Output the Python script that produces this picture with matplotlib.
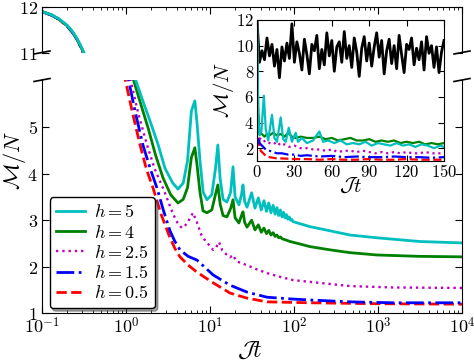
import math
import matplotlib
matplotlib.use("Agg")
import matplotlib.pyplot as plt
from matplotlib.ticker import FuncFormatter, FixedLocator, LogLocator, NullFormatter
from matplotlib.lines import Line2D

plt.rcParams['mathtext.fontset'] = 'cm'
plt.rcParams['font.family'] = 'serif'
plt.rcParams['font.serif'] = ['DejaVu Serif']

# main panel data (log time axis)
labels = ['$h=5$', '$h=4$', '$h=2.5$', '$h=1.5$', '$h=0.5$']

t_early = [0.1, 0.13, 0.16, 0.2, 0.23, 0.26, 0.3, 0.33, 0.4, 0.5, 0.65, 0.8]

t_h5 = t_early + [1.0, 1.28, 1.6, 1.93, 2.4, 2.91, 3.6, 4.16, 4.8, 5.4, 6.0, 6.6, 7.0, 7.6,
        8.3, 9.2, 10.5, 11.6, 12.4, 13.2, 14.3, 15.9, 17.6, 18.8, 19.9, 22.1, 23.7, 24.7,
        25.9, 27.6, 31.3, 34.3, 37.6, 40.8, 43.9, 47.0, 50.1, 53.2, 56.4, 59.5, 62.6,
        65.7, 68.9, 72.0, 75.1, 78.2, 81.3, 84.5, 87.6, 90.7, 93.8, 97, 110, 155, 270,
        464, 973, 3160, 10000]
m_h5 = [11.9, 11.83, 11.74, 11.6, 11.47, 11.32, 11.1, 10.92, 10.4, 9.6, 8.5, 7.7,
        6.9, 6.06, 5.55, 5.14, 4.64, 4.12, 3.8, 3.67, 3.8, 4.28, 5.35, 5.57, 5.1, 4.28,
        3.6, 3.44, 3.55, 4.1, 4.62, 3.9, 3.45, 3.39, 3.6, 4.15, 3.5, 3.33, 3.55, 3.76,
        3.4, 3.28, 3.59, 3.26, 3.48, 3.22, 3.42, 3.19, 3.37, 3.16, 3.32, 3.13, 3.27,
        3.10, 3.22, 3.07, 3.17, 3.05, 3.12, 3.02, 3.07, 3.00, 3.02, 2.97, 2.94, 2.86, 2.77,
        2.68, 2.62, 2.54, 2.51]

t_h4 = t_early + [1.0, 1.21, 1.5, 1.83, 2.25, 2.76, 3.4, 4.16, 4.8, 5.4, 6.0, 6.6, 7.0, 7.6,
        8.26, 9.2, 10.5, 11.6, 12.4, 13.2, 14.3, 15.9, 17.6, 18.8, 19.9, 22.1, 23.7, 24.7,
        25.9, 27.6, 31.3, 34.3, 37.6, 40.8, 43.9, 47.0, 50.1, 53.2, 56.4, 59.5, 62.6,
        65.7, 68.9, 72.0, 78, 90, 110, 155, 270, 464, 973, 3160, 10000]
m_h4 = [11.9, 11.83, 11.73, 11.59, 11.46, 11.31, 11.08, 10.9, 10.35, 9.5, 8.4, 7.55,
        6.7, 6.06, 5.5, 4.99, 4.4, 3.91, 3.55, 3.37, 3.45, 3.7, 4.35, 4.56, 4.2, 3.6,
        3.2, 3.16, 3.22, 3.55, 3.76, 3.35, 3.1, 3.07, 3.25, 3.44, 3.05, 2.94, 3.1, 3.18,
        2.95, 2.85, 3.0, 2.79, 2.9, 2.74, 2.83, 2.71, 2.78, 2.68, 2.73, 2.65, 2.68,
        2.62, 2.64, 2.6, 2.58, 2.54, 2.5, 2.43, 2.36, 2.3, 2.25, 2.22, 2.21]

t_h25 = t_early + [1.12, 1.4, 1.78, 2.2, 2.76, 3.6, 4.16, 4.64, 5.3, 6.28, 7.0, 7.9,
         8.7, 10.9, 11.9, 12.8, 14, 15.9, 17.3, 18.8, 20.5, 23, 27.6, 35, 47.7, 68, 97,
         155, 464, 1500, 10000]
m_h25 = [11.9, 11.82, 11.73, 11.58, 11.45, 11.3, 11.07, 10.88, 10.3, 9.4, 8.2, 7.3,
         6.06, 5.3, 4.62, 4.1, 3.69, 3.15, 2.92, 2.83, 2.92, 3.16, 2.95, 2.68,
         2.57, 2.36, 2.42, 2.53, 2.35, 2.25, 2.2, 2.25, 2.12, 2.08, 2.03, 1.95, 1.86, 1.78, 1.71,
         1.67, 1.58, 1.55, 1.54]

t_h15 = t_early + [1.06, 1.3, 1.59, 1.95, 2.34, 2.8, 3.34, 3.8, 4.39, 5.5, 7.0, 8.5, 10.9, 17.3,
         27.6, 47.7, 97, 155, 464, 1500, 10000]
m_h15 = [11.9, 11.82, 11.73, 11.58, 11.45, 11.3, 11.07, 10.87, 10.25, 9.3, 8.0, 7.1,
         6.06, 5.3, 4.62, 4.1, 3.69, 3.2, 2.77, 2.55, 2.36, 2.22, 2.14, 2.0, 1.82, 1.6,
         1.45, 1.34, 1.3, 1.28, 1.24, 1.22, 1.22]

t_h05 = t_early + [0.97, 1.2, 1.47, 1.75, 2.10, 2.65, 3.34, 3.8, 4.39, 5.5, 7.0, 10.9, 17.3, 27.6,
         47.7, 155, 1000, 10000]
m_h05 = [11.9, 11.82, 11.73, 11.58, 11.45, 11.3, 11.07, 10.87, 10.2, 9.2, 7.9, 6.9,
         6.06, 5.3, 4.62, 4.1, 3.69, 3.1, 2.62, 2.4, 2.21, 2.03, 1.88, 1.65, 1.43, 1.32,
         1.24, 1.22, 1.2, 1.19]

# inset data (linear time axis)
ti_black = list(range(0, 152, 2))
mi_black = [12.0, 8.7, 9.6, 8.9, 10.6, 9.2, 10.1, 8.4, 9.7, 7.5, 9.9, 8.8, 10.2, 9.0, 11.7,
            8.7, 10.3, 9.4, 8.1, 10.5, 9.3, 7.8, 10.1, 9.6, 10.8, 8.2, 9.7, 8.5, 11.0, 9.2,
            10.4, 8.0, 9.9, 10.3, 8.7, 11.1, 9.0, 10.0, 8.3, 10.6, 9.5, 7.6, 9.8, 10.7, 8.8,
            10.2, 8.4, 9.9, 11.0, 9.1, 10.4, 7.8, 9.6, 10.5, 8.6, 10.0, 8.2, 10.8, 9.3, 7.9,
            10.1, 9.7, 10.6, 8.5, 9.8, 8.9, 10.3, 8.1, 10.7, 9.4, 10.0, 8.3, 9.9, 7.9, 9.5,
            10.4]

ti_h5 = [0, 0.5, 1, 2, 3.5, 5.5, 7, 9, 12, 14, 16, 19, 21, 23, 25.5, 28, 31, 33, 36, 40,
         45, 50, 53, 57, 62, 67, 72, 77, 82, 87, 92, 97, 102, 107, 112, 117, 122, 127, 132,
         137, 142, 147, 150]
mi_h5 = [12, 8, 4.5, 3.0, 3.3, 6.1, 3.5, 2.6, 4.6, 2.8, 2.5, 4.4, 2.7, 2.5, 3.6, 2.5, 3.2,
         2.5, 2.8, 2.4, 2.6, 3.3, 2.5, 2.6, 2.4, 2.6, 2.3, 2.4, 2.3, 2.5, 2.2, 2.4, 2.3, 2.2,
         2.4, 2.2, 2.3, 2.1, 2.3, 2.2, 2.0, 2.2, 2.1]

ti_h4 = [0, 0.5, 1, 2, 4, 6, 8, 10, 13, 16, 19, 22, 25, 28, 31, 35, 40, 45, 50, 55, 60, 65,
         70, 75, 80, 85, 90, 95, 100, 105, 110, 115, 120, 125, 130, 135, 140, 145, 150]
mi_h4 = [12, 8, 4.8, 3.2, 3.1, 2.9, 3.1, 3.0, 3.2, 3.0, 3.1, 2.9, 3.2, 2.9, 2.8, 2.9, 2.8,
         2.8, 2.9, 2.7, 2.8, 2.6, 2.7, 2.8, 2.6, 2.6, 2.7, 2.5, 2.6, 2.5, 2.6, 2.4, 2.5, 2.4,
         2.5, 2.3, 2.4, 2.3, 2.4]

ti_h25 = [0, 0.5, 1, 2, 3, 5, 7, 10, 13, 16, 19, 22, 26, 30, 35, 40, 45, 50, 55, 60, 65, 70,
          75, 80, 85, 90, 95, 100, 105, 110, 115, 120, 125, 130, 135, 140, 145, 150]
mi_h25 = [12, 7, 3.8, 2.8, 2.7, 2.5, 2.6, 2.4, 2.3, 2.5, 2.2, 2.3, 2.1, 2.2, 2.0, 2.0, 1.9,
          1.9, 1.8, 1.9, 1.7, 1.8, 1.8, 1.7, 1.8, 1.7, 1.6, 1.7, 1.6, 1.7, 1.6, 1.7, 1.6, 1.6,
          1.7, 1.6, 1.6, 1.6]

ti_h15 = [0, 0.5, 1, 2, 3, 5, 7, 10, 13, 16, 20, 25, 30, 35, 40, 45, 50, 60, 70, 80, 90, 100,
          110, 120, 130, 140, 150]
mi_h15 = [12, 6.5, 3.5, 2.4, 2.3, 2.1, 1.9, 1.8, 1.7, 1.6, 1.6, 1.5, 1.5, 1.4, 1.45, 1.4,
          1.35, 1.4, 1.3, 1.35, 1.3, 1.3, 1.35, 1.3, 1.3, 1.25, 1.3]

ti_h05 = [0, 0.5, 1, 2, 3, 5, 7, 10, 13, 16, 20, 30, 40, 50, 60, 70, 80, 90, 100, 110, 120,
          130, 140, 150]
mi_h05 = [12, 6, 3.0, 2.0, 1.8, 1.6, 1.4, 1.3, 1.25, 1.2, 1.2, 1.15, 1.15, 1.1, 1.15, 1.1,
          1.1, 1.15, 1.1, 1.1, 1.15, 1.1, 1.1, 1.1]

styles = [dict(color='c', ls='-', lw=2), dict(color='g', ls='-', lw=2),
          dict(color='m', ls=':', lw=1.7), dict(color='b', ls='-.', lw=2),
          dict(color='r', ls='--', lw=2)]
main_t = [t_h5, t_h4, t_h25, t_h15, t_h05]
main_m = [m_h5, m_h4, m_h25, m_h15, m_h05]
ins_t = [ti_h5, ti_h4, ti_h25, ti_h15, ti_h05]
ins_m = [mi_h5, mi_h4, mi_h25, mi_h15, mi_h05]

W, H = 474, 360
fig = plt.figure(figsize=(W / 100, H / 100), dpi=100)

def fx(px):
    return px / W

def fy(py):
    return 1 - py / H

x0, x1 = 42, 462
ax_top = fig.add_axes([fx(x0), fy(53), fx(x1) - fx(x0), fy(7) - fy(53)])
ax = fig.add_axes([fx(x0), fy(313), fx(x1) - fx(x0), fy(80) - fy(313)])

logfmt = FuncFormatter(lambda v, p: r'$10^{%d}$' % round(math.log10(v)))
numfmt = FuncFormatter(lambda v, p: r'$%g$' % v)

handles = []
for i in [4, 3, 2, 1, 0]:
    for a in (ax_top, ax):
        ln, = a.plot(main_t[i], main_m[i], **styles[i])
    handles.append(ln)
handles = handles[::-1]

for a in (ax_top, ax):
    a.set_xscale('log')
    a.set_xlim(0.1, 1e4)
    a.tick_params(which='both', direction='in', top=True, right=True, labelsize=13, pad=3)
    a.tick_params(which='major', length=5)
    a.tick_params(which='minor', length=2.5)
    a.xaxis.set_major_locator(LogLocator(base=10, numticks=10))
    a.xaxis.set_minor_locator(LogLocator(base=10, subs=range(2, 10), numticks=10))
    a.xaxis.set_minor_formatter(NullFormatter())

ax_top.set_ylim(11, 12)
ax_top.yaxis.set_major_locator(FixedLocator([11, 12]))
ax_top.yaxis.set_major_formatter(numfmt)
ax_top.spines['bottom'].set_visible(False)
ax_top.tick_params(which='both', bottom=False, labelbottom=False)

ax.set_ylim(1, 6.02)
ax.yaxis.set_major_locator(FixedLocator([1, 2, 3, 4, 5]))
ax.yaxis.set_major_formatter(numfmt)
ax.xaxis.set_major_formatter(logfmt)
ax.spines['top'].set_visible(False)
ax.tick_params(which='both', top=False)

# break marks
for xc in (x0, x1):
    fig.add_artist(Line2D([fx(xc - 8), fx(xc + 8)], [fy(54), fy(51)], color='k', lw=1.2))
    fig.add_artist(Line2D([fx(xc - 8), fx(xc + 8)], [fy(81.5), fy(78.5)], color='k', lw=1.2))

leg = ax.legend(handles, labels, loc='lower left', bbox_to_anchor=(0.018, 0.02),
                borderaxespad=0, fontsize=13, handlelength=1.6, handletextpad=0.5,
                labelspacing=0.12, borderpad=0.35, fancybox=True, shadow=True,
                framealpha=1, edgecolor='k')

fig.text(fx(250), fy(350), r'$\mathcal{J}t$', fontsize=17, ha='center', va='center')
fig.text(fx(15), fy(160), r'$\mathcal{M}/N$', fontsize=16, ha='center', va='center',
         rotation=90)

# inset
axi = fig.add_axes([fx(257), fy(161), fx(444) - fx(257), fy(20) - fy(161)])
axi.plot(ti_black, mi_black, color='k', lw=2)
for i in [4, 3, 2, 1, 0]:
    st = dict(styles[i])
    st['lw'] = 1.6
    axi.plot(ins_t[i], ins_m[i], **st)
axi.set_xlim(0, 150)
axi.set_ylim(1, 12)
axi.xaxis.set_major_locator(FixedLocator([0, 30, 60, 90, 120, 150]))
axi.yaxis.set_major_locator(FixedLocator([2, 4, 6, 8, 10, 12]))
axi.xaxis.set_major_formatter(numfmt)
axi.yaxis.set_major_formatter(numfmt)
axi.tick_params(direction='in', top=True, right=True, labelsize=12, length=4, pad=2)
axi.set_xlabel(r'$\mathcal{J}t$', fontsize=15, labelpad=-3)
axi.set_ylabel(r'$\mathcal{M}/N$', fontsize=15, labelpad=0)

fig.savefig('out.png', dpi=100)
